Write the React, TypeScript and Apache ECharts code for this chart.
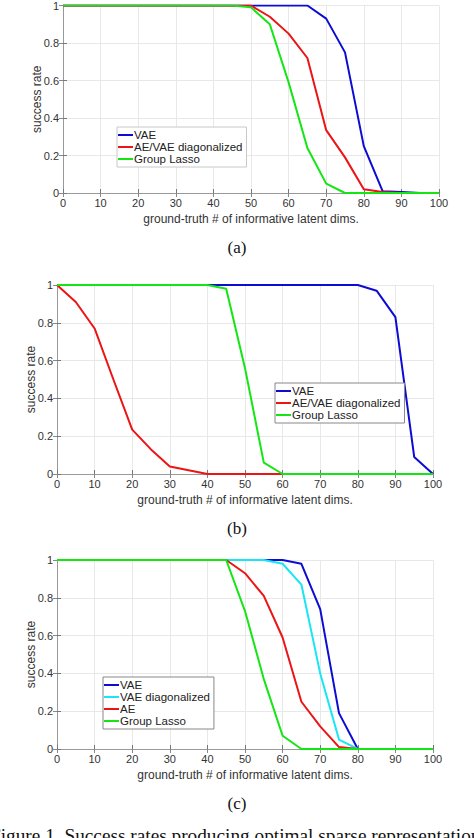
import React, { useEffect, useRef } from "react";
import * as echarts from "echarts";

const xs = [0, 5, 10, 15, 20, 25, 30, 35, 40, 45, 50, 55, 60, 65, 70, 75, 80, 85, 90, 95, 100];

const aVAE = [1, 1, 1, 1, 1, 1, 1, 1, 1, 1, 1, 1, 1, 1, 0.93, 0.75, 0.25, 0.01, 0.005, 0, 0];
const aAEVAE = [1, 1, 1, 1, 1, 1, 1, 1, 1, 1, 1, 0.94, 0.85, 0.72, 0.335, 0.19, 0.02, 0.005, 0, 0, 0];
const aGL = [1, 1, 1, 1, 1, 1, 1, 1, 1, 1, 0.99, 0.9, 0.59, 0.24, 0.05, 0, 0, 0, 0, 0, 0];

const bVAE = [1, 1, 1, 1, 1, 1, 1, 1, 1, 1, 1, 1, 1, 1, 1, 1, 1, 0.97, 0.83, 0.09, 0];
const bAEVAE = [1, 0.91, 0.77, 0.5, 0.235, 0.13, 0.04, 0.02, 0, 0, 0, 0, 0, 0, 0, 0, 0, 0, 0, 0, 0];
const bGL = [1, 1, 1, 1, 1, 1, 1, 1, 1, 0.98, 0.56, 0.06, 0, 0, 0, 0, 0, 0, 0, 0, 0];

const cVAE = [1, 1, 1, 1, 1, 1, 1, 1, 1, 1, 1, 1, 1, 0.98, 0.74, 0.19, 0, 0, 0, 0, 0];
const cVAEdiag = [1, 1, 1, 1, 1, 1, 1, 1, 1, 1, 1, 1, 0.98, 0.87, 0.4, 0.05, 0, 0, 0, 0, 0];
const cAE = [1, 1, 1, 1, 1, 1, 1, 1, 1, 1, 0.93, 0.81, 0.59, 0.25, 0.12, 0.01, 0, 0, 0, 0, 0];
const cGL = [1, 1, 1, 1, 1, 1, 1, 1, 1, 1, 0.73, 0.37, 0.07, 0, 0, 0, 0, 0, 0, 0, 0];

const xTitle = "ground-truth # of informative latent dims.";
const yTitle = "success rate";
const captions = ["(a)", "(b)", "(c)"];
const figureCaption = "Figure 1. Success rates producing optimal sparse representations";

const BLUE = "#0c0cd2";
const RED = "#ec1414";
const GREEN = "#14e614";
const CYAN = "#18e6f4";

const SANS = "'Liberation Sans', Arial, Helvetica, sans-serif";
const SERIF = "'Liberation Serif', 'Times New Roman', serif";

const grids = [
  { left: 63, top: 4, width: 376, height: 189 },
  { left: 57, top: 285, width: 376, height: 189 },
  { left: 57, top: 560, width: 376, height: 189 },
];

function pairs(vals: number[]) {
  return xs.map((x, i) => [x, vals[i]]);
}

export default function App() {
  const ref = useRef<HTMLDivElement>(null);
  useEffect(() => {
    document.body.style.margin = "0";
    const chart = echarts.init(ref.current!, null, { renderer: "svg" });
    const xAxis: any[] = [];
    const yAxis: any[] = [];
    grids.forEach((g, gi) => {
      xAxis.push({
        type: "value",
        gridIndex: gi,
        min: 0,
        max: 100,
        interval: 10,
        position: "bottom",
        name: xTitle,
        nameLocation: "middle",
        nameGap: 20,
        nameMoveOverlap: false,
        nameTextStyle: { fontFamily: SANS, fontSize: 12, color: "#333" },
        axisLine: { show: true, lineStyle: { color: "#777", width: 1 } },
        axisTick: { show: true, inside: true, length: 4, lineStyle: { color: "#777" } },
        axisLabel: { fontFamily: SANS, fontSize: 11, color: "#333", margin: 4 },
        splitLine: { show: true, lineStyle: { color: "#e8e8e8", width: 1 } },
      });
      xAxis.push({
        type: "value",
        gridIndex: gi,
        min: 0,
        max: 100,
        interval: 10,
        position: "top",
        axisLine: { show: true, lineStyle: { color: "#999", width: 1 } },
        axisTick: { show: true, inside: true, length: 4, lineStyle: { color: "#888" } },
        axisLabel: { show: false },
        splitLine: { show: false },
      });
      yAxis.push({
        type: "value",
        gridIndex: gi,
        min: 0,
        max: 1,
        interval: 0.2,
        position: "left",
        name: yTitle,
        nameLocation: "middle",
        nameGap: 20,
        nameMoveOverlap: false,
        nameTextStyle: { fontFamily: SANS, fontSize: 12, color: "#333" },
        axisLine: { show: true, lineStyle: { color: "#777", width: 1 } },
        axisTick: { show: true, inside: true, length: 4, lineStyle: { color: "#777" } },
        axisLabel: { fontFamily: SANS, fontSize: 11, color: "#333", margin: 4 },
        splitLine: { show: true, lineStyle: { color: "#e8e8e8", width: 1 } },
      });
      yAxis.push({
        type: "value",
        gridIndex: gi,
        min: 0,
        max: 1,
        interval: 0.2,
        position: "right",
        axisLine: { show: true, lineStyle: { color: "#999", width: 1 } },
        axisTick: { show: true, inside: true, length: 4, lineStyle: { color: "#888" } },
        axisLabel: { show: false },
        splitLine: { show: false },
      });
    });

    const mk = (name: string, vals: number[], color: string, gi: number) => ({
      type: "line",
      name,
      xAxisIndex: gi * 2,
      yAxisIndex: gi * 2,
      data: pairs(vals),
      symbol: "none",
      showSymbol: false,
      lineStyle: { color, width: 2 },
      itemStyle: { color },
      z: 3,
    });

    const legendBase = {
      orient: "vertical",
      itemWidth: 15,
      itemHeight: 2,
      itemGap: 0,
      icon: "rect",
      backgroundColor: "#fff",
      borderWidth: 1,
      selectedMode: false,
      textStyle: { fontFamily: SANS, fontSize: 11.5, color: "#222", lineHeight: 12, padding: [0, 0, 0, -4] },
    };

    chart.setOption({
      animation: false,
      backgroundColor: "#fff",
      grid: grids.map((g) => ({ ...g, containLabel: false })),
      xAxis,
      yAxis,
      legend: [
        {
          ...legendBase,
          left: 117,
          top: 127,
          padding: [2, 4, 2, 1],
          borderColor: "#c8c8c8",
          data: ["VAE", "AE/VAE diagonalized", "Group Lasso"],
        },
        {
          ...legendBase,
          left: 275,
          top: 383,
          padding: [2, 4, 2, 1],
          borderColor: "#888",
          data: ["VAE", "AE/VAE diagonalized", "Group Lasso"],
        },
        {
          ...legendBase,
          left: 103,
          top: 677,
          padding: [2, 4, 2, 1],
          borderColor: "#888",
          data: ["VAE", "VAE diagonalized", "AE", "Group Lasso"],
        },
      ],
      series: [
        mk("VAE", aVAE, BLUE, 0),
        mk("AE/VAE diagonalized", aAEVAE, RED, 0),
        mk("Group Lasso", aGL, GREEN, 0),
        mk("VAE", bVAE, BLUE, 1),
        mk("AE/VAE diagonalized", bAEVAE, RED, 1),
        mk("Group Lasso", bGL, GREEN, 1),
        mk("VAE", cVAE, BLUE, 2),
        mk("VAE diagonalized", cVAEdiag, CYAN, 2),
        mk("AE", cAE, RED, 2),
        mk("Group Lasso", cGL, GREEN, 2),
      ],
      graphic: [
        { type: "text", x: 237, y: 247, style: { text: captions[0], font: `17px ${SERIF}`, fill: "#111", align: "center", verticalAlign: "middle" } },
        { type: "text", x: 237, y: 528, style: { text: captions[1], font: `17px ${SERIF}`, fill: "#111", align: "center", verticalAlign: "middle" } },
        { type: "text", x: 237, y: 803, style: { text: captions[2], font: `17px ${SERIF}`, fill: "#111", align: "center", verticalAlign: "middle" } },
        { type: "text", x: -10, y: 835, style: { text: figureCaption, font: `19.3px ${SERIF}`, fill: "#111", align: "left", verticalAlign: "middle" } },
      ],
    });
    return () => chart.dispose();
  }, []);
  return <div ref={ref} style={{ position: "absolute", left: 0, top: 0, width: 474, height: 838 }} />;
}
